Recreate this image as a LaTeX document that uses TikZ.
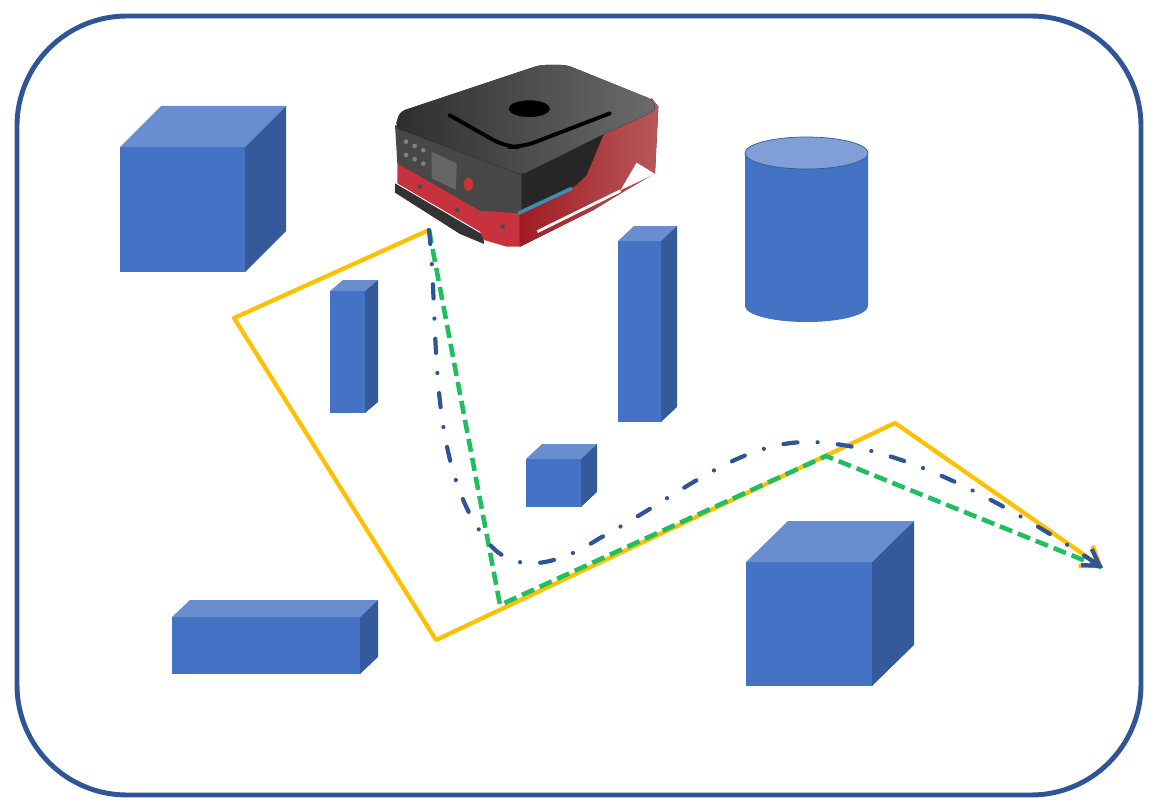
\documentclass[tikz,border=0pt]{standalone}
\usetikzlibrary{arrows.meta}

\definecolor{framecol}{HTML}{2F5597}
\definecolor{frontcol}{HTML}{4472C4}
\definecolor{topcol}{HTML}{698ED0}
\definecolor{sidecol}{HTML}{355A9C}
\definecolor{pathyellow}{HTML}{FFC000}
\definecolor{pathgreen}{HTML}{1FBF5F}
\definecolor{robred}{HTML}{C8323E}
\definecolor{robsidea}{HTML}{A01C22}
\definecolor{robsideb}{HTML}{B8585C}

\tikzset{
  solidpath/.style={line width=2.4pt,pathyellow,line join=round},
  dashpath/.style={line width=2.6pt,pathgreen,dash pattern=on 7.5pt off 3.5pt},
  curvepath/.style={line width=2.4pt,framecol,line cap=round,dash pattern=on 8pt off 11.5pt on 0.01pt off 11.5pt},
  yellowtip/.style={-{Straight Barb[length=10pt,width=14pt]}},
  bluetip/.style={-{Straight Barb[length=9pt,width=11pt]}}
}

% front corner x y, width, height, depth dx dy
\newcommand{\cuboid}[6]{
  \fill[frontcol] (#1,#2) rectangle ++(#3,#4);
  \fill[topcol] (#1,#2) -- ++(#5,-#6) -- ++(#3,0) -- ++(-#5,#6) -- cycle;
  \fill[sidecol] (#1+#3,#2) -- ++(#5,-#6) -- ++(0,#4) -- ++(-#5,#6) -- cycle;
}

\begin{document}
\begin{tikzpicture}[x=0.02cm,y=-0.02cm]
\useasboundingbox (0,0) rectangle (1157,811);

\draw[framecol,line width=2.8pt,rounded corners=2.2cm] (17,16) rectangle (1141,795);

\cuboid{120}{147}{125}{125}{41}{41}
\cuboid{330}{291}{35}{122}{13}{11}
\cuboid{618}{241}{43}{181}{16}{15}
\cuboid{526}{459}{55}{48}{16}{15}
\cuboid{172}{617}{188}{57}{18}{17}
\cuboid{746}{562}{126}{124}{42}{41}

% cylinder
\fill[frontcol] (745,153) -- (745,306) arc[start angle=180,end angle=0,x radius=61.5,y radius=16] -- (868,153) -- cycle;
\fill[topcol!85!white,draw=sidecol,line width=.4pt] (806.5,153) ellipse[x radius=61.5,y radius=16];

% robot, in its own finer grid
\begin{scope}[shift={(380,50)},x=0.00667cm,y=-0.00667cm]
\fill[black!80] (45,400) -- (310,555) -- (312,582) -- (240,552) -- (45,428) -- cycle;
\fill[robred] (52,338) -- (300,470) -- (420,490) -- (420,590) -- (380,590) -- (312,570) -- (300,545) -- (52,400) -- cycle;
\fill[left color=robsidea,right color=robsideb] (420,372) -- (672,250) -- (815,145) -- (835,170) -- (825,370) -- (722,430) -- (640,480) -- (420,590) -- cycle;
\fill[white] (722,420) -- (770,338) -- (825,372) -- cycle;
\draw[white,line width=1.6pt] (472,545) -- (722,422);
\fill[black!72] (45,225) -- (425,360) -- (425,490) -- (300,482) -- (52,340) -- cycle;
\fill[black!85] (425,365) -- (672,250) -- (620,375) -- (585,408) -- (425,478) -- cycle;
\fill[left color=black!82,right color=black!58,rounded corners=3pt] (45,232) -- (60,185) -- (480,45) -- (560,45) -- (820,150) -- (828,182) -- (672,252) -- (425,375) -- cycle;
\draw[black,line width=2.2pt,rounded corners=8pt,line cap=round] (208,195) -- (375,290) -- (425,292) -- (690,190);
\fill[black] (448,176) ellipse[x radius=62,y radius=25];
\fill[black!60] (155,305) -- (230,340) -- (228,420) -- (155,385) -- cycle;
\foreach \col/\row in {0/0,1/0,2/0,0/1,1/1,2/1}
  \fill[black!50] (78+\col*26,275+\col*13+\row*40) circle (7);
\fill[red!75!black!80] (265,403) ellipse[x radius=14,y radius=20];
\foreach \sx/\sy in {120/410,232/480,368/530}
  \fill[black!70] (\sx,\sy) circle (7);
\draw[cyan!70!black,line width=2pt] (415,490) -- (575,415);
\end{scope}

% paths
\coordinate (start) at (429,230);
\coordinate (goal) at (1103,568);
\coordinate (ywpa) at (234,318);
\coordinate (ywpb) at (436,640);
\coordinate (ywpc) at (895,423);
\coordinate (gwpa) at (500,605);
\coordinate (gwpb) at (826,456);

\draw[solidpath,yellowtip] (start) -- (ywpa) -- (ywpb) -- (ywpc) -- (goal);
\draw[dashpath] (start) -- (gwpa) -- (gwpb) -- (goal);
\draw[curvepath,bluetip] (start) .. controls (440,330) and (425,470) .. (492,547)
  .. controls (515,570) and (550,570) .. (600,538)
  .. controls (680,495) and (740,440) .. (812,442)
  .. controls (900,445) and (1000,500) .. (goal);

\end{tikzpicture}
\end{document}
